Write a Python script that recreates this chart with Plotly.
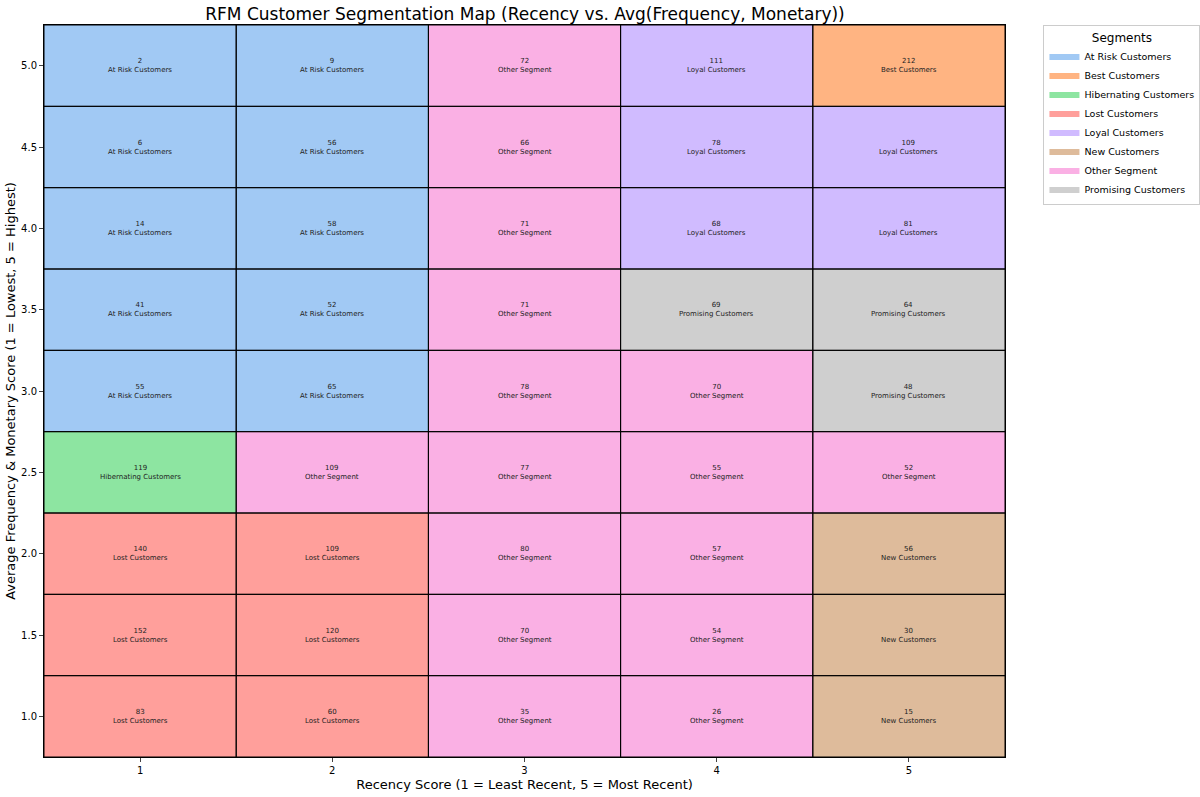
import plotly.graph_objects as go

recency = [1, 2, 3, 4, 5]
avg_fm = [5.0, 4.5, 4.0, 3.5, 3.0, 2.5, 2.0, 1.5, 1.0]

counts = [
    [2, 9, 72, 111, 212],
    [6, 56, 66, 78, 109],
    [14, 58, 71, 68, 81],
    [41, 52, 71, 69, 64],
    [55, 65, 78, 70, 48],
    [119, 109, 77, 55, 52],
    [140, 109, 80, 57, 56],
    [152, 120, 70, 54, 30],
    [83, 60, 35, 26, 15],
]
AR, BC, HC, LC, LY, NC, OS, PC = ("At Risk Customers", "Best Customers", "Hibernating Customers",
                                  "Lost Customers", "Loyal Customers", "New Customers",
                                  "Other Segment", "Promising Customers")
segments_grid = [
    [AR, AR, OS, LY, BC],
    [AR, AR, OS, LY, LY],
    [AR, AR, OS, LY, LY],
    [AR, AR, OS, PC, PC],
    [AR, AR, OS, OS, PC],
    [HC, OS, OS, OS, OS],
    [LC, LC, OS, OS, NC],
    [LC, LC, OS, OS, NC],
    [LC, LC, OS, OS, NC],
]
segment_order = [AR, BC, HC, LC, LY, NC, OS, PC]
segment_colors = ["#a1c9f4", "#ffb482", "#8de5a1", "#ff9f9b", "#d0bbff", "#debb9b", "#fab0e4", "#cfcfcf"]

fig = go.Figure()
hw, hh = 0.5, 0.25
bx, by = [], []
for seg, col in zip(segment_order, segment_colors):
    xs, ys = [], []
    for i, yv in enumerate(avg_fm):
        for j, xv in enumerate(recency):
            if segments_grid[i][j] == seg:
                rx = [xv - hw, xv + hw, xv + hw, xv - hw, xv - hw, None]
                ry = [yv - hh, yv - hh, yv + hh, yv + hh, yv - hh, None]
                xs += rx
                ys += ry
                bx += rx
                by += ry
    fig.add_trace(go.Scatter(x=xs, y=ys, mode="lines", fill="toself", fillcolor=col,
                             line=dict(color=col, width=0), name=seg,
                             hoverinfo="skip"))

fig.add_trace(go.Scatter(x=bx, y=by, mode="lines", line=dict(color="black", width=1),
                         showlegend=False, hoverinfo="skip"))

for i, yv in enumerate(avg_fm):
    for j, xv in enumerate(recency):
        fig.add_annotation(x=xv, y=yv, text=f"{counts[i][j]}<br>{segments_grid[i][j]}",
                           showarrow=False, font=dict(size=7, color="#222"),
                           yshift=0)

fig.update_layout(
    width=1200, height=797,
    margin=dict(l=44, r=195, t=25, b=40, autoexpand=False),
    plot_bgcolor="white", paper_bgcolor="white",
    font=dict(family="DejaVu Sans", color="black"),
    title=dict(text="RFM Customer Segmentation Map (Recency vs. Avg(Frequency, Monetary))",
               x=0.4375, xanchor="center", y=0.982, yanchor="middle", font=dict(size=17)),
    legend=dict(title=dict(text="Segments", side="top center", font=dict(size=12)),
                x=1.04, y=1.0, xanchor="left", yanchor="top",
                bordercolor="#cccccc", borderwidth=1, bgcolor="white",
                font=dict(size=9.5), itemwidth=30, tracegroupgap=0),
)
fig.update_xaxes(range=[0.5, 5.5], tickvals=recency, ticktext=[str(r) for r in recency],
                 showgrid=False, zeroline=False, ticks="outside", ticklen=4,
                 showline=True, linecolor="black", mirror=True,
                 tickfont=dict(size=10), automargin=False,
                 title=dict(text="Recency Score (1 = Least Recent, 5 = Most Recent)",
                            font=dict(size=13), standoff=4))
fig.update_yaxes(range=[0.75, 5.25], tickvals=avg_fm, ticktext=[f"{v:.1f}" for v in avg_fm],
                 showgrid=False, zeroline=False, ticks="outside", ticklen=4,
                 showline=True, linecolor="black", mirror=True,
                 tickfont=dict(size=10), automargin=False,
                 title=dict(text="Average Frequency & Monetary Score (1 = Lowest, 5 = Highest)",
                            font=dict(size=13), standoff=2))

fig.write_html("out.html")
